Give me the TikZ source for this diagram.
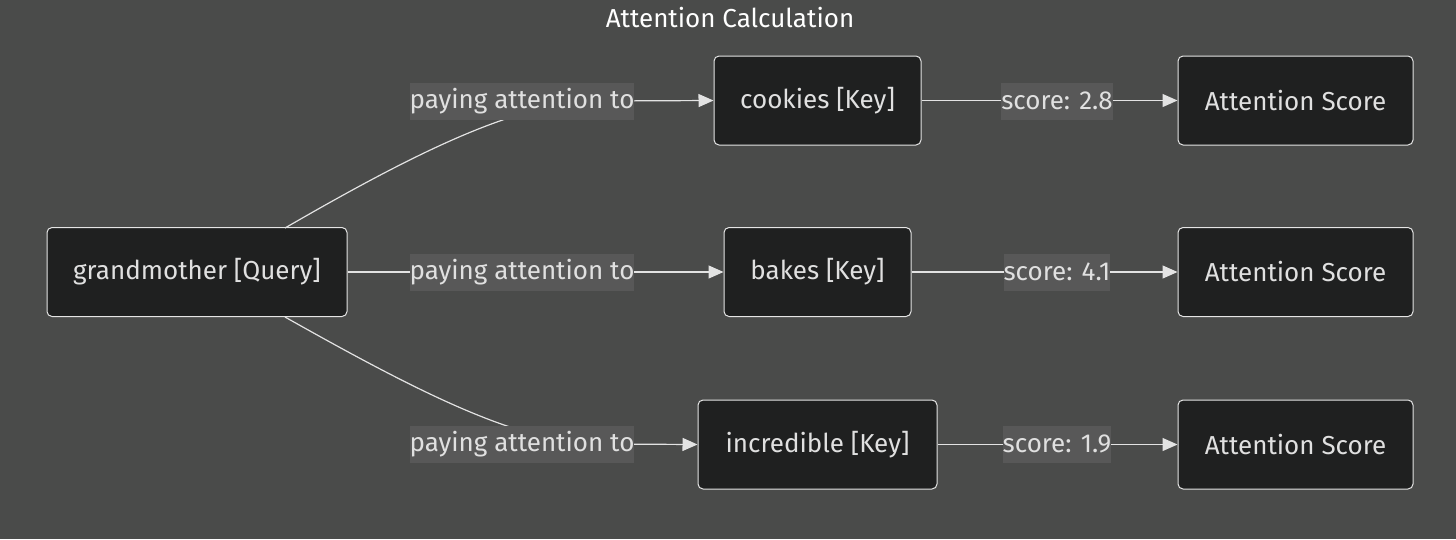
\documentclass[tikz,border=0pt]{standalone}
\usepackage{fontspec}
\setmainfont{Fira Sans}
\usetikzlibrary{arrows.meta}
\definecolor{bg}{HTML}{4A4B4A}
\definecolor{nf}{HTML}{1F2020}
\definecolor{lb}{HTML}{585858}
\definecolor{tx}{HTML}{E0E0E0}
\begin{document}
\begin{tikzpicture}[x=1pt,y=1pt,
  box/.style={draw=tx!85,fill=nf,rounded corners=5pt,line width=1pt,minimum height=89pt,text=tx,font=\fontsize{26}{30}\selectfont},
  lab/.style={fill=lb,text=tx,inner sep=0pt,minimum height=37pt,font=\fontsize{26}{30}\selectfont},
  edge/.style={draw=tx!90,line width=1.2pt,-{Triangle[length=15pt,width=13pt]}}]
\fill[bg] (0,0) rectangle (1456,-539);
\node[text=white,font=\fontsize{26}{30}\selectfont] (title) at (730,-18) {Attention Calculation};
\node[box,minimum width=300pt] (q) at (197,-272) {grandmother [Query]};
\node[box,minimum width=207pt] (k1) at (817.5,-100.5) {cookies [Key]};
\node[box,minimum width=187pt] (k2) at (817.5,-272) {bakes [Key]};
\node[box,minimum width=239pt] (k3) at (817.5,-444.5) {incredible [Key]};
\node[box,minimum width=235pt] (s1) at (1295.5,-100.5) {Attention Score};
\node[box,minimum width=235pt] (s2) at (1295.5,-272) {Attention Score};
\node[box,minimum width=235pt] (s3) at (1295.5,-444.5) {Attention Score};
\coordinate (a1) at (285,-228);
\coordinate (a3) at (285,-317);
\draw[edge] (a1) .. controls (420,-150) and (520,-101) .. (600,-101) -- (k1.west);
\draw[edge] (q.east) -- (k2.west);
\draw[edge] (a3) .. controls (420,-393) and (520,-444) .. (600,-444) -- (k3.west);
\draw[edge] (k1.east) -- (s1.west);
\draw[edge] (k2.east) -- (s2.west);
\draw[edge] (k3.east) -- (s3.west);
\node[lab] (l1) at (522,-101) {paying attention to};
\node[lab] (l2) at (522,-272) {paying attention to};
\node[lab] (l3) at (522,-444) {paying attention to};
\node[lab] (m1) at (1057,-101) {score: 2.8};
\node[lab] (m2) at (1057,-272) {score: 4.1};
\node[lab] (m3) at (1057,-444) {score: 1.9};
\end{tikzpicture}
\end{document}
